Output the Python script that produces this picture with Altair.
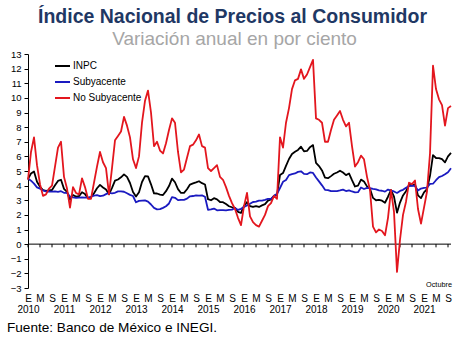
import altair as alt
import pandas as pd

FONT = "Liberation Sans, Arial, sans-serif"

title_text = ["Índice Nacional de Precios al Consumidor"]
subtitle_text = ["Variación anual en por ciento"]
source_text = ["Fuente: Banco de México e INEGI."]
note_text = ["Octubre"]

series_names = ["INPC", "Subyacente", "No Subyacente"]
series_colors = ["#000000", "#1A1AC0", "#E3161E"]
first_year = 2010
month_letters = ["E", "M", "S"]
y_ticks = list(range(-3, 14))

inpc = [
    4.46, 4.83, 4.97, 4.27, 3.92, 3.69, 3.64, 3.68, 3.70, 4.02, 4.32, 4.40,
    3.78, 3.57, 3.04, 3.36, 3.25, 3.28, 3.55, 3.42, 3.14, 3.20, 3.48, 3.82,
    4.05, 3.87, 3.73, 3.41, 3.85, 4.34, 4.42, 4.57, 4.77, 4.60, 4.18, 3.57,
    3.25, 3.55, 4.25, 4.65, 4.63, 4.09, 3.47, 3.46, 3.39, 3.36, 3.62, 3.97,
    4.48, 4.23, 3.76, 3.50, 3.51, 3.75, 4.07, 4.15, 4.22, 4.30, 4.17, 4.08,
    3.07, 3.00, 3.14, 3.06, 2.88, 2.87, 2.74, 2.59, 2.52, 2.48, 2.21, 2.13,
    2.61, 2.87, 2.60, 2.54, 2.60, 2.54, 2.65, 2.73, 2.97, 3.06, 3.31, 3.36,
    4.72, 4.86, 5.35, 5.82, 6.16, 6.31, 6.44, 6.66, 6.35, 6.37, 6.63, 6.77,
    5.55, 5.34, 5.04, 4.55, 4.51, 4.65, 4.81, 4.90, 5.02, 4.90, 4.72, 4.83,
    4.37, 3.94, 4.00, 4.41, 4.28, 3.95, 3.78, 3.16, 3.00, 3.02, 2.97, 2.83,
    3.24, 3.70, 3.25, 2.15, 2.84, 3.33, 3.62, 4.05, 4.01, 4.09, 3.33, 3.15,
    3.54, 3.76, 4.67, 6.08, 5.89, 5.88, 5.81, 5.59, 6.00, 6.24,
]

subyacente = [
    4.48, 4.34, 4.14, 3.88, 3.79, 3.68, 3.60, 3.60, 3.59, 3.61, 3.58, 3.62,
    3.51, 3.50, 3.25, 3.20, 3.16, 3.18, 3.19, 3.18, 3.18, 3.24, 3.32, 3.35,
    3.28, 3.31, 3.42, 3.50, 3.47, 3.51, 3.61, 3.60, 3.58, 3.48, 3.37, 3.29,
    2.86, 2.96, 2.98, 2.99, 2.91, 2.71, 2.48, 2.38, 2.39, 2.48, 2.59, 2.78,
    3.21, 3.17, 3.01, 3.03, 3.03, 3.11, 3.27, 3.29, 3.33, 3.32, 3.33, 3.24,
    2.35, 2.37, 2.43, 2.31, 2.33, 2.33, 2.31, 2.34, 2.36, 2.47, 2.34, 2.41,
    2.54, 2.65, 2.76, 2.88, 2.90, 2.97, 2.97, 3.02, 3.10, 3.10, 3.29, 3.44,
    3.84, 4.26, 4.38, 4.72, 4.78, 4.83, 4.94, 4.98, 4.80, 4.78, 4.90, 4.87,
    4.56, 4.29, 4.02, 3.71, 3.69, 3.62, 3.63, 3.63, 3.67, 3.73, 3.63, 3.68,
    3.60, 3.54, 3.55, 3.87, 3.77, 3.85, 3.82, 3.78, 3.75, 3.68, 3.65, 3.59,
    3.73, 3.66, 3.60, 3.50, 3.64, 3.71, 3.85, 3.97, 3.99, 3.98, 3.66, 3.80,
    3.84, 3.87, 4.12, 4.13, 4.37, 4.58, 4.66, 4.78, 4.92, 5.19,
]

no_subyacente = [
    4.4, 6.3, 7.3, 5.4, 4.1, 3.3, 3.4, 3.8, 4.0, 5.3, 6.6, 7.0,
    4.6, 3.8, 2.5, 3.9, 3.5, 3.4, 4.5, 3.9, 3.1, 3.1, 4.2, 5.3,
    6.3, 5.6, 5.2, 3.4, 5.2, 7.1, 7.4, 7.7, 8.7, 8.1, 7.3, 5.8,
    5.2, 6.0, 8.3, 9.8, 10.5, 9.0, 6.7, 7.0, 6.4, 6.2, 6.9, 7.8,
    8.6, 8.3, 6.3, 4.9, 5.1, 5.9, 6.7, 6.8, 7.1, 7.5, 6.7, 6.6,
    5.2, 5.0, 5.2, 5.4, 4.6, 4.4, 3.9, 3.3, 2.8, 2.4, 1.8, 1.3,
    2.6, 3.5, 1.9, 1.5, 1.3, 1.2, 1.6, 2.0, 2.6, 2.8, 3.3, 3.1,
    7.3, 6.6, 8.3, 9.3, 10.6, 11.2, 11.3, 11.95, 11.3, 11.6, 12.1, 12.6,
    8.6, 8.5, 8.3, 7.0, 7.0, 7.8, 8.5, 8.8, 9.1, 8.5, 8.05, 8.3,
    6.7, 5.3, 5.6, 6.05, 5.8, 4.6, 3.7, 1.2, 0.8, 1.0, 0.9, 0.6,
    1.8, 3.7, 2.2, -1.9, 0.3, 2.0, 2.9, 4.2, 4.1, 4.35, 2.4, 1.4,
    2.5, 3.6, 6.2, 12.2, 10.6, 9.9, 9.5, 8.1, 9.3, 9.45,
]

n = len(inpc)
rows = []
for name, vals in zip(series_names, [inpc, subyacente, no_subyacente]):
    for i, v in enumerate(vals):
        rows.append({"serie": name, "t": i, "valor": v})
df = pd.DataFrame(rows)

tick_vals = list(range(0, n, 4))
label_expr = (
    f"datum.value % 12 == 0 ? ['{month_letters[0]}', '' + ({first_year} + datum.value / 12)] : "
    f"(datum.value % 12 == 4 ? '{month_letters[1]}' : '{month_letters[2]}')"
)

x_scale = alt.Scale(domain=[0, n - 1], nice=False, zero=False)
y_scale = alt.Scale(domain=[-3, 13], nice=False)

lines = alt.Chart(df).mark_line(strokeWidth=1.8, strokeJoin="round").encode(
    x=alt.X(
        "t:Q",
        scale=x_scale,
        axis=alt.Axis(
            values=tick_vals, tickCount=200, labelExpr=label_expr, domain=False,
            ticks=False, grid=False, title=None, labelFont=FONT, labelFontSize=10,
            labelColor="black", labelPadding=5, labelLineHeight=11,
            labelAngle=0, labelFlush=False, labelOverlap=False,
        ),
    ),
    y=alt.Y(
        "valor:Q",
        scale=y_scale,
        axis=alt.Axis(
            values=y_ticks, tickCount=100, format="d", grid=False, title=None,
            domainColor="black", tickColor="black", tickSize=4, labelFontSize=9.5,
            labelPadding=3, labelColor="black", labelFont=FONT, labelOverlap=False,
        ),
    ),
    color=alt.Color(
        "serie:N",
        scale=alt.Scale(domain=series_names, range=series_colors),
        legend=alt.Legend(
            title=None, orient="none", legendX=26, legendY=3.5,
            symbolType="stroke", symbolSize=225, symbolStrokeWidth=2,
            labelFontSize=10, labelFont=FONT, labelColor="black",
            labelOffset=2, rowPadding=2, padding=0,
        ),
    ),
)

zero_line = alt.Chart(pd.DataFrame({"cero": [0]})).mark_rule(
    color="black", strokeWidth=1
).encode(y=alt.datum(0))

zero_ticks = alt.Chart(pd.DataFrame({"t": tick_vals})).mark_rule(
    color="black", strokeWidth=1
).encode(x=alt.X("t:Q"), y=alt.datum(0), y2=alt.datum(-0.22))

title_layer = alt.Chart(pd.DataFrame({"txt": title_text})).mark_text(
    font=FONT, fontSize=19.5, fontWeight="bold", color="#1F3864",
    align="center", baseline="alphabetic",
).encode(text="txt:N", x=alt.value(204.5), y=alt.value(-31))

subtitle_layer = alt.Chart(pd.DataFrame({"txt": subtitle_text})).mark_text(
    font=FONT, fontSize=19, color="#A6A6A6", align="center", baseline="alphabetic",
).encode(text="txt:N", x=alt.value(206.5), y=alt.value(-9))

source_layer = alt.Chart(pd.DataFrame({"txt": source_text})).mark_text(
    font=FONT, fontSize=13.6, color="black", align="left", baseline="alphabetic",
).encode(text="txt:N", x=alt.value(-21), y=alt.value(278))

note_layer = alt.Chart(pd.DataFrame({"txt": note_text})).mark_text(
    font=FONT, fontSize=7.3, color="black", align="right", baseline="alphabetic",
).encode(text="txt:N", x=alt.value(424), y=alt.value(233))

chart = alt.layer(
    zero_line, zero_ticks, lines, title_layer, subtitle_layer, source_layer, note_layer
).properties(
    width=423, height=234,
    autosize=alt.AutoSizeParams(type="none"),
    padding={"left": 28, "top": 54, "right": 23, "bottom": 53},
    background="white",
).configure_view(stroke=None).configure_axis(labelOverlap=False)

chart.save("out.html", embed_options={"renderer": "svg", "actions": False})
